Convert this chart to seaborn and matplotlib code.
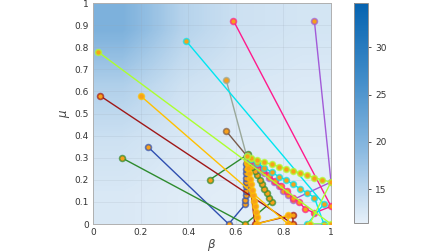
import numpy as np
import seaborn as sns
import matplotlib.pyplot as plt
from matplotlib.colors import LinearSegmentedColormap, to_rgba

# background field (coarse grid read from the shading, rows top->bottom)
field = [[20.5, 15.5, 13.5, 13.0],
         [16.0, 13.5, 12.6, 12.3],
         [13.5, 12.5, 12.0, 11.8],
         [12.5, 12.0, 11.7, 11.5]]
cmin, cmax = 11.4, 34.7

# particle trajectories: (colour, beta list, mu list)
blue_b = [0.23, 0.57, 0.640, 0.640, 0.641, 0.641, 0.642, 0.642, 0.643, 0.643, 0.644, 0.644, 0.645, 0.645]
blue_m = [0.35, 0.00, 0.09, 0.11, 0.13, 0.15, 0.17, 0.19, 0.21, 0.23, 0.25, 0.27, 0.29, 0.31]

green_b = [0.12, 0.64, 0.75, 0.74, 0.73, 0.72, 0.71, 0.70, 0.69, 0.68, 0.67, 0.66, 0.65]
green_m = [0.30, 0.00, 0.10, 0.12, 0.14, 0.16, 0.18, 0.20, 0.22, 0.24, 0.26, 0.28, 0.30]

green2_b = [0.49, 0.65]
green2_m = [0.20, 0.315]

red_b = [0.03, 0.84, 0.84, 0.68, 0.645]
red_m = [0.58, 0.00, 0.04, 0.00, 0.31]

gold_b = [0.20, 0.82, 0.82, 0.690, 0.687, 0.683, 0.679, 0.675, 0.671, 0.667, 0.663, 0.659, 0.655, 0.651, 0.648, 0.645]
gold_m = [0.58, 0.00, 0.04, 0.00, 0.03, 0.055, 0.08, 0.105, 0.13, 0.155, 0.18, 0.205, 0.23, 0.255, 0.28, 0.31]

purple_b = [0.93, 1.00, 0.84, 0.82, 0.80, 0.78, 0.76, 0.74, 0.72, 0.70, 0.68, 0.66, 0.645]
purple_m = [0.92, 0.19, 0.11, 0.13, 0.15, 0.17, 0.19, 0.21, 0.23, 0.25, 0.27, 0.29, 0.31]

pink_b = [0.59, 1.00, 0.93, 0.89, 0.865, 0.84, 0.815, 0.79, 0.765, 0.74, 0.715, 0.69, 0.665, 0.645]
pink_m = [0.92, 0.08, 0.05, 0.07, 0.10, 0.12, 0.15, 0.17, 0.195, 0.22, 0.245, 0.27, 0.29, 0.31]

cyan_b = [0.39, 0.97, 0.90, 0.97, 0.93, 0.90, 0.87, 0.84, 0.81, 0.78, 0.75, 0.72, 0.69, 0.665, 0.645]
cyan_m = [0.83, 0.09, 0.00, 0.00, 0.12, 0.14, 0.16, 0.18, 0.20, 0.215, 0.235, 0.255, 0.275, 0.295, 0.31]

lime_b = [0.02, 1.00, 0.91, 1.00, 0.96, 0.93, 0.90, 0.87, 0.84, 0.81, 0.78, 0.75, 0.72, 0.69, 0.665, 0.645]
lime_m = [0.78, 0.00, 0.00, 0.19, 0.20, 0.21, 0.22, 0.23, 0.24, 0.25, 0.26, 0.27, 0.28, 0.29, 0.30, 0.31]

sage_b = [0.56, 0.645]
sage_m = [0.65, 0.31]

taupe_b = [0.56, 0.645]
taupe_m = [0.42, 0.31]

particles = [
    ('#9aa89a', sage_b, sage_m),
    ('#7a5c4c', taupe_b, taupe_m),
    ('#2f4fb0', blue_b, blue_m),
    ('#2e8b2e', green_b, green_m),
    ('#2e8b2e', green2_b, green2_m),
    ('#a01818', red_b, red_m),
    ('#ffc000', gold_b, gold_m),
    ('#a25ad8', purple_b, purple_m),
    ('#ff1a8c', pink_b, pink_m),
    ('#00e5f0', cyan_b, cyan_m),
    ('#adff2f', lime_b, lime_m),
]

sns.set_style('white')
plt.rcParams['font.family'] = ['DejaVu Sans']

fig = plt.figure(figsize=(4.48, 2.52), dpi=100)
ax = fig.add_axes([0.2076, 0.111, 0.5313, 0.877])
cax = fig.add_axes([0.790, 0.115, 0.031, 0.873])

cmap = LinearSegmentedColormap.from_list('mblues', ['#e6f0f9', '#8ab9e0', '#3f8bc8', '#0563b0'])
im = ax.imshow(field, extent=[0, 1, 0, 1], origin='upper', cmap=cmap,
               vmin=cmin, vmax=cmax, interpolation='bilinear', aspect='auto', zorder=0)

for c, bb, mm in particles:
    sns.lineplot(x=bb, y=mm, sort=False, estimator=None, ax=ax, color=c, lw=1.0,
                 marker='o', markersize=4.2, markerfacecolor='#f7a01a',
                 markeredgecolor=to_rgba(c, 0.7), markeredgewidth=1.2, zorder=3)

ax.set_xlim(0, 1)
ax.set_ylim(0, 1)
ax.set_xticks(np.arange(0, 1.01, 0.2))
ax.set_xticklabels(['0', '0.2', '0.4', '0.6', '0.8', '1'])
ax.set_yticks(np.arange(0, 1.01, 0.1))
ax.set_yticklabels(['0', '0.1', '0.2', '0.3', '0.4', '0.5', '0.6', '0.7', '0.8', '0.9', '1'])
ax.grid(True, color='#9aa6b2', alpha=0.2, lw=0.6)
ax.tick_params(labelsize=6.5, colors='#333333', length=0, pad=3)
for s in ax.spines.values():
    s.set_color('#b0b0b0')
    s.set_linewidth(0.7)
ax.set_xlabel(r'$\beta$', fontsize=8.5, color='#444444', labelpad=0)
ax.set_ylabel(r'$\mu$', fontsize=8.5, color='#444444', labelpad=2)

cb = fig.colorbar(im, cax=cax)
cb.set_ticks([15, 20, 25, 30])
cb.ax.tick_params(labelsize=6.5, colors='#333333', length=2, width=0.6)
cb.outline.set_edgecolor('#909090')
cb.outline.set_linewidth(0.7)

fig.savefig('out.png', dpi=100)
